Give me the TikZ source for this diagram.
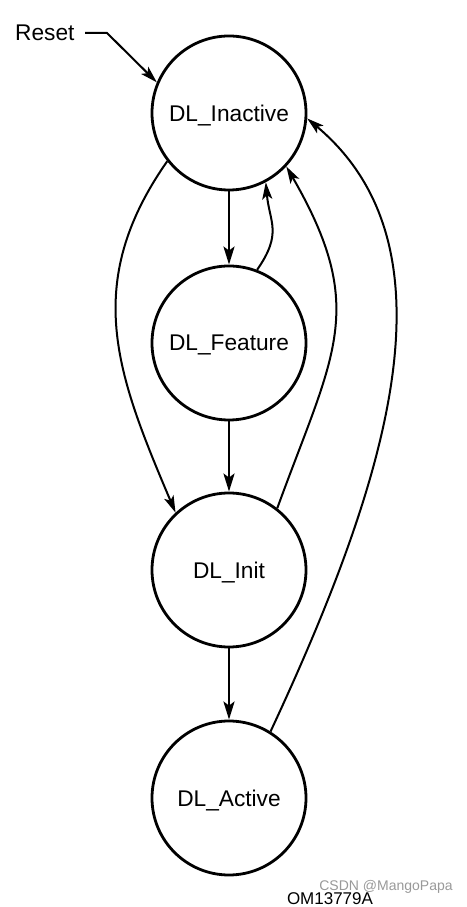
\documentclass[tikz,border=0pt]{standalone}
\usepackage{fontspec}
\setmainfont{Liberation Sans}
\usetikzlibrary{arrows.meta}
\begin{document}
\begin{tikzpicture}[x=1pt,y=1pt,
  state/.style={circle,draw,line width=2.8pt,minimum size=154pt,inner sep=0pt,text depth=0pt,font=\fontsize{22.7}{26}\selectfont},
  conn/.style={line width=2pt,-{Stealth[length=17pt,width=10pt,inset=4pt]}},
  straight/.style={conn,line width=2.7pt,-{Stealth[length=18pt,width=11pt,inset=4pt]}},
  lbl/.style={font=\fontsize{22.7}{26}\selectfont,inner sep=0pt}]
\useasboundingbox (0,0) rectangle (466,907);
\node[state] (inact) at (229,794) {DL\_Inactive};
\node[state] (feat) at (229,564) {DL\_Feature};
\node[state] (init) at (229,337) {DL\_Init};
\node[state] (act) at (229,109) {DL\_Active};
\node[lbl,anchor=west] (reset) at (15,874) {Reset};
\coordinate (r1) at (85,874);
\coordinate (r2) at (107,874);
\draw[conn] (r1) -- (r2) -- (inact.157);
\draw[straight] (inact.south) -- (feat.north);
\draw[straight] (feat.south) -- (init.north);
\draw[straight] (init.south) -- (act.north);
\draw[conn] (inact.218) .. controls +(235:150) and +(113:150) .. (init.133);
\draw[conn] (feat.69) .. controls +(55:45) and +(-85:40) .. (inact.298);
\draw[conn] (init.52) .. controls +(70:165) and +(-60:165) .. (inact.317);
\draw[conn] (act.58) .. controls +(65:280) and +(-40:200) .. (inact.356);
\node[font=\fontsize{14}{16}\selectfont,text=black!40,inner sep=0pt] (wm) at (386,20) {CSDN @MangoPapa};
\node[font=\fontsize{17}{19}\selectfont,inner sep=0pt] (om) at (330,8) {OM13779A};
\end{tikzpicture}
\end{document}
